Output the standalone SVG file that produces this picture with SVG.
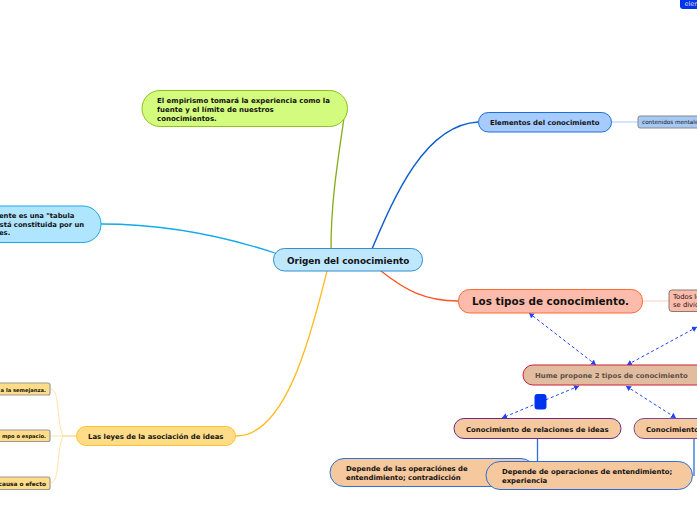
<svg xmlns="http://www.w3.org/2000/svg" width="697" height="520" viewBox="0 0 697 520">
<style>
text{font-family:"DejaVu Sans",Verdana,sans-serif;font-weight:700;fill:#111}
.c{fill:none;stroke-linecap:round}
.d{fill:none;stroke:#1f44ff;stroke-width:1;stroke-dasharray:3 2.5;marker-start:url(#a);marker-end:url(#a)}
.s{fill:#ffdd88;stroke:#999;stroke-width:1.200}
.e{text-anchor:end}
</style>
<defs><marker id="a" markerWidth="6" markerHeight="6" refX="5" refY="3" orient="auto-start-reverse" markerUnits="userSpaceOnUse"><path d="M0 0L5 3L0 6Z" fill="#1f44ff"/></marker></defs>
<rect width="697" height="520" fill="#fff"/>
<g id="connectors">
<path class="c" d="M331 249C331 200 338 160 344 118" stroke="#84ad10" stroke-width="1.300"/>
<path class="c" d="M372 249C395 195 425 125 478 122" stroke="#0f5fcc" stroke-width="1.500"/>
<path class="c" d="M612 122H638" stroke="#a9c9f5" stroke-width="1.200"/>
<path class="c" d="M275 253C220 235 165 224 101 224" stroke="#11aaea" stroke-width="1.300"/>
<path class="c" d="M327 271C310 340 285 436 236 436" stroke="#ffbb22" stroke-width="1.300"/>
<path class="c" d="M381 271C405 290 425 301 458 301" stroke="#ff5522" stroke-width="1.300"/>
<path class="c" d="M643 301H669" stroke="#ffd0c0" stroke-width="1.200"/>
<path class="c" d="M76 436H63" stroke="#ffcc55" stroke-width="1"/>
<path class="c" d="M63 436C56 420 60 389 51 389M63 436H51M63 436C56 452 60 483 51 483" stroke="#ffe4a5" stroke-width="1"/>
<path class="d" d="M596 365L529 313"/>
<path class="d" d="M627 365L697 327"/>
<path class="d" d="M579 386L502 418"/>
<path class="d" d="M626 386L676 418"/>
<path d="M537.500 438V470M694 438V476" fill="none" stroke="#2a70d8" stroke-width="1.300"/>
</g>
<g id="n1"><rect x="142" y="90.500" width="205.500" height="36" rx="18" fill="#d3fb7e" stroke="#8fc020"/><text font-size="7"><tspan x="157" y="103">El empirismo tomará la experiencia como la</tspan><tspan x="157" y="111.500">fuente y el límite de nuestros</tspan><tspan x="157" y="120.500">conocimientos.</tspan></text></g>
<g id="n2"><rect x="478.500" y="112.500" width="133" height="19.500" rx="9.700" fill="#a6cbff" stroke="#1c6fd8"/><text x="490" y="125" font-size="6.900">Elementos del conocimiento</text></g>
<g id="n3"><rect x="638" y="116" width="70" height="12" rx="2" fill="#a6c8f5" stroke="#8a8a8a"/><text x="642" y="124" font-size="5.700" style="font-weight:400">contenidos mentales</text></g>
<g id="n4"><rect x="-60" y="206" width="161" height="36.500" rx="18" fill="#b0e5ff" stroke="#18a8ea"/><text font-size="6.800"><tspan x="-1" y="218">ente es una "tabula</tspan><tspan x="-5" y="227">está constituida por un</tspan><tspan x="-1" y="235">es.</tspan></text></g>
<g id="root"><rect x="273.500" y="248.500" width="149" height="22.500" rx="11" fill="#bfe8ff" stroke="#2f8fd0"/><text x="287" y="263.500" font-size="8.900">Origen del conocimiento</text></g>
<g id="n5"><rect x="458.500" y="289.500" width="184" height="23.500" rx="11" fill="#fdbcab" stroke="#ff6a33"/><text x="472" y="305" font-size="10.400">Los tipos de conocimiento.</text></g>
<g id="n6"><rect x="669" y="290" width="60" height="21.500" rx="3" fill="#fdbcab" stroke="#8a7a70"/><text font-size="6.800" style="font-weight:400"><tspan x="673" y="299">Todos los</tspan><tspan x="673" y="307">se dividen</tspan></text></g>
<g id="n7"><rect x="523" y="365" width="190" height="20" rx="10" fill="#e2bc9f" stroke="#c8203a"/><text x="535" y="378" font-size="6.900" style="fill:#5a5048">Hume propone 2 tipos de conocimiento</text></g>
<rect id="n17" x="534.500" y="394" width="12" height="15.500" rx="3" fill="#0033ee"/>
<g id="n8"><rect x="454" y="418.500" width="167" height="20" rx="10" fill="#f5c89e" stroke="#6a2a8a"/><text x="466" y="431.500" font-size="6.900">Conocimiento de relaciones de ideas</text></g>
<g id="n9"><rect x="634" y="418.500" width="110" height="20" rx="10" fill="#f5c89e" stroke="#7a4a9a"/><text x="646" y="431.500" font-size="6.900">Conocimiento de</text></g>
<g id="n10"><rect x="330" y="458.500" width="205" height="28" rx="14" fill="#f5c89e" stroke="#2a70d8"/><text font-size="6.900"><tspan x="346" y="471">Depende de las operaciónes de</tspan><tspan x="346" y="480">entendimiento; contradicción</tspan></text></g>
<g id="n11"><rect x="486" y="461.500" width="206.500" height="28" rx="14" fill="#f5c89e" stroke="#2a70d8"/><text font-size="6.900"><tspan x="502" y="474">Depende de operaciones de entendimiento;</tspan><tspan x="502" y="483">experiencia</tspan></text></g>
<g id="n12"><rect x="-80" y="383" width="130" height="12" rx="2" class="s"/><text class="e" x="46" y="391.500" font-size="5.200">a la semejanza.</text></g>
<g id="n13"><rect x="-80" y="430" width="130" height="11.500" rx="2" class="s"/><text class="e" x="46" y="438" font-size="5.200">mpo o espacio.</text></g>
<g id="n14"><rect x="-80" y="477" width="130" height="12.500" rx="2" class="s"/><text class="e" x="46" y="486" font-size="5.800">causa o efecto</text></g>
<g id="n15"><rect x="76.500" y="426.500" width="159" height="19" rx="9.500" fill="#ffdd88" stroke="#ffc030"/><text x="88" y="439" font-size="6.900">Las leyes de la asociación de ideas</text></g>
<g id="n16"><rect x="680" y="-8" width="40" height="17" rx="3" fill="#0033ee"/><text x="684.500" y="6" font-size="6.500" style="fill:#dde;font-weight:400">elementos</text></g>
</svg>
